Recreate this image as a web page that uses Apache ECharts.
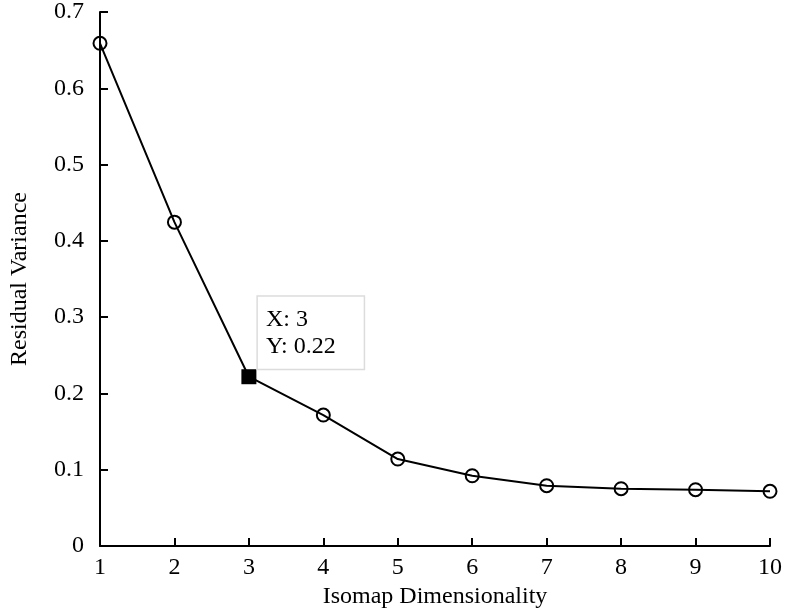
<!DOCTYPE html>
<html>
<head>
<meta charset="utf-8">
<script src="https://cdn.jsdelivr.net/npm/echarts@6/dist/echarts.min.js"></script>
<style>html,body{margin:0;padding:0;background:#fff}#c{width:785px;height:614px}</style>
</head>
<body>
<div id="c"></div>
<script>
var dims = [1, 2, 3, 4, 5, 6, 7, 8, 9, 10];
var residualVariance = [0.659, 0.4245, 0.2219, 0.1717, 0.114, 0.0921, 0.079, 0.0751, 0.0738, 0.0717];
var highlightIndex = 2;
var xTitle = 'Isomap Dimensionality';
var yTitle = 'Residual Variance';

var FONT = '"Liberation Serif", "Times New Roman", serif';
var data = dims.map(function (d, i) {
  var item = { value: [d, residualVariance[i]] };
  if (i === highlightIndex) {
    item.symbol = 'rect';
    item.symbolSize = 15;
    item.itemStyle = { color: '#000', borderColor: '#000', borderWidth: 0 };
    item.label = {
      show: true,
      position: [16.5, -72.5],
      align: 'left',
      verticalAlign: 'top',
      formatter: function (p) {
        return 'X: ' + p.value[0] + '\nY: ' + p.value[1].toFixed(2);
      },
      fontFamily: FONT,
      fontSize: 24,
      lineHeight: 27,
      color: '#000',
      backgroundColor: '#fff',
      borderColor: '#dcdcdc',
      borderWidth: 1.5,
      padding: [9, 28, 9, 8]
    };
  }
  return item;
});

var chart = echarts.init(document.getElementById('c'), null, { renderer: 'canvas' });
chart.setOption({
  backgroundColor: '#fff',
  animation: false,
  grid: { left: 94, right: 14, top: 12, bottom: 68, containLabel: false },
  xAxis: {
    type: 'value', min: 1, max: 10, interval: 1,
    name: xTitle, nameLocation: 'middle', nameGap: 35,
    nameTextStyle: { fontFamily: FONT, fontSize: 24, color: '#000' },
    axisLine: { show: true, onZero: false, lineStyle: { color: '#000', width: 2 } },
    axisTick: { show: true, inside: true, length: 8, lineStyle: { color: '#000', width: 2 } },
    axisLabel: { fontFamily: FONT, fontSize: 24, color: '#000', margin: 10, showMinLabel: true, showMaxLabel: true },
    splitLine: { show: false }
  },
  yAxis: {
    type: 'value', min: 0, max: 0.7, interval: 0.1,
    name: yTitle, nameLocation: 'middle', nameGap: 68,
    nameTextStyle: { fontFamily: FONT, fontSize: 24, color: '#000' },
    axisLine: { show: true, lineStyle: { color: '#000', width: 2 } },
    axisTick: { show: true, inside: true, length: 8, lineStyle: { color: '#000', width: 2 } },
    axisLabel: { fontFamily: FONT, fontSize: 24, color: '#000', margin: 16,
      formatter: function (v) { return String(Math.round(v * 10) / 10); } },
    splitLine: { show: false }
  },
  series: [{
    type: 'line',
    data: data,
    symbol: 'circle',
    symbolSize: 13,
    showAllSymbol: true,
    lineStyle: { color: '#000', width: 2 },
    itemStyle: { color: 'rgba(0,0,0,0)', borderColor: '#000', borderWidth: 2 },
    emphasis: { disabled: true },
    z: 3
  }]
});
</script>
</body>
</html>
